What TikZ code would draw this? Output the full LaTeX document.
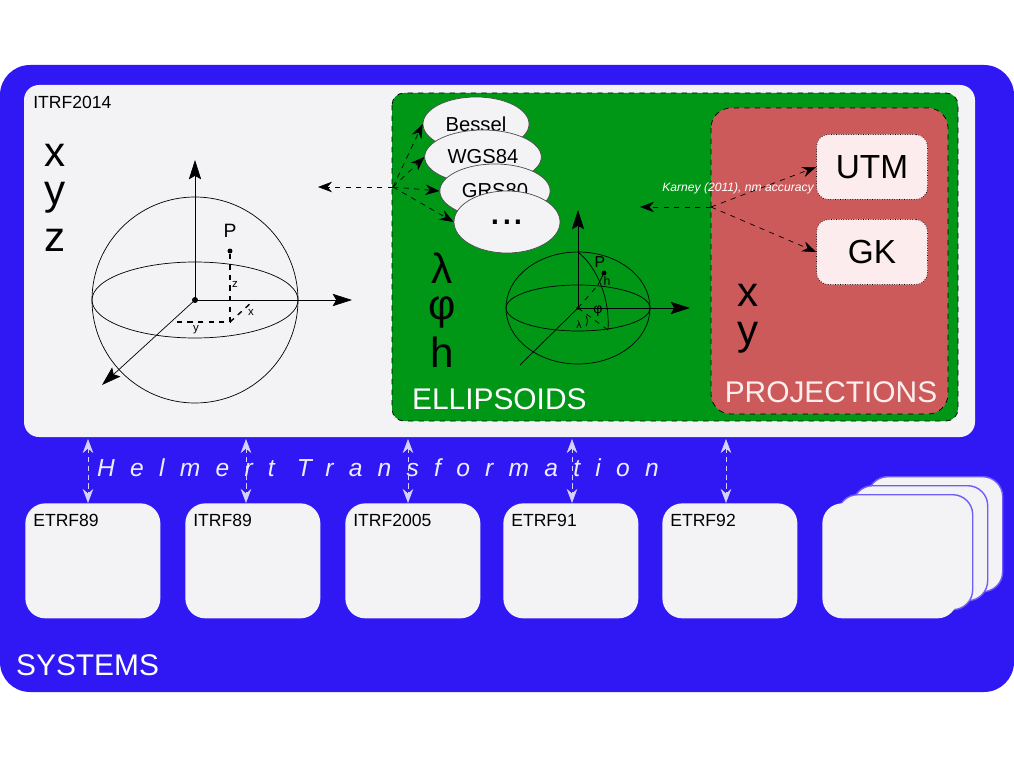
\documentclass[tikz,border=0pt]{standalone}
\usepackage{fontspec}
\setmainfont{Liberation Sans}
\usetikzlibrary{positioning, shapes, arrows.meta}
\definecolor{sysblue}{RGB}{48,24,245}
\definecolor{panel}{RGB}{243,242,245}
\definecolor{ellgreen}{RGB}{0,150,22}
\definecolor{projred}{RGB}{205,90,90}
\definecolor{projbox}{RGB}{252,236,238}
\tikzset{
  frame/.style={draw=none, rounded corners=20*0.02cm, fill=panel},
  sysbox/.style={frame, minimum width=135*0.02cm, minimum height=115*0.02cm, anchor=north west},
  syslabel/.style={font=\fontsize{10}{11}\selectfont, anchor=north west, inner sep=0pt},
  ellip/.style={ellipse, draw=black!70, thin, fill=panel, minimum width=106*0.02cm, minimum height=54*0.02cm, font=\fontsize{11.5}{12}\selectfont},
  projnode/.style={draw, densely dotted, rounded corners=12*0.02cm, fill=projbox, minimum width=111*0.02cm, minimum height=65*0.02cm, font=\fontsize{19}{20}\selectfont},
  big/.style={font=\fontsize{24}{25}\selectfont, inner sep=0pt},
  title/.style={text=white, font=\fontsize{17}{18}\selectfont},
  dasharrow/.style={dashed, -{Stealth[length=8pt]}},
  axis/.style={-{Stealth[length=11pt, width=7pt, inset=2pt]}},
  helmert/.style={densely dashed, draw=white!80!sysblue, {Stealth[length=8pt]}-{Stealth[length=8pt]}},
  dot/.style={circle, fill=black, inner sep=1.2pt}
}
\begin{document}
\begin{tikzpicture}[x=0.02cm, y=-0.02cm]
    \useasboundingbox (0,0) rectangle (1014,760);

    % systems background
    \fill[sysblue, rounded corners=30*0.02cm] (0,65) rectangle (1014,692);
    \node[title, anchor=west] (systems) at (10,665) {SYSTEMS};

    % ITRF2014 panel
    \fill[panel, rounded corners=15*0.02cm] (24,85) rectangle (975,437);
    \node[syslabel] (itrf) at (33,96) {ITRF2014};
    \node[big] (cx) at (55,155) {x};
    \node[big] (cy) at (55,198) {y};
    \node[big] (cz) at (55,240) {z};

    % sphere
    \coordinate (o) at (195,300);
    \draw (o) circle [radius=103];
    \draw (o) ellipse [x radius=103, y radius=38];
    \coordinate (zt) at (195,160);
    \coordinate (xt) at (352,300);
    \coordinate (yt) at (102,385);
    \draw[axis] (o) -- (zt);
    \draw[axis] (o) -- (xt);
    \draw[axis] (o) -- (yt);
    \node[dot] at (o) {};
    \node[dot, inner sep=1pt] (p) at (230,251) {};
    \node[font=\fontsize{11}{12}\selectfont] at (230,231) {P};
    \coordinate (foot) at (230,322);
    \coordinate (yfoot) at (172,322);
    \coordinate (xfoot) at (252,302);
    \draw[dashed, thick] (p) -- (foot) -- (yfoot);
    \draw[dashed, thick] (foot) -- (xfoot);
    \node[font=\fontsize{6.5}{7}\selectfont] at (235,284) {z};
    \node[font=\fontsize{6.5}{7}\selectfont] at (251,312) {x};
    \node[font=\fontsize{6.5}{7}\selectfont] at (196,330) {y};

    % ellipsoids box
    \draw[dashed, fill=ellgreen, rounded corners=12*0.02cm] (392,93) rectangle (958,421);
    \node[ellip] (bessel) at (476,124) {Bessel};
    \node[ellip] (wgs) at (483,157) {WGS84};
    \node[ellip] (grs) at (495,191) {GRS80};
    \node[ellip, minimum height=62*0.02cm, font=\fontsize{24}{24}\selectfont] (more) at (507,222) {...};
    \coordinate (ellsrc) at (393,187);
    \coordinate (toxyz) at (318,187);
    \draw[dasharrow] (ellsrc) -- (toxyz);
    \draw[dasharrow] (ellsrc) -- (bessel.west);
    \draw[dasharrow] (ellsrc) -- (wgs.west);
    \draw[dasharrow] (ellsrc) -- (grs.west);
    \draw[dasharrow] (ellsrc) -- (more.west);
    \node[big] (cl) at (442,268) {λ};
    \node[big] (cp) at (442,312) {φ};
    \node[big] (ch) at (442,352) {h};

    % ellipsoid
    \coordinate (e) at (578,308);
    \draw (e) ellipse [x radius=72, y radius=56];
    \draw (e) ellipse [x radius=72, y radius=23];
    \draw[axis] (e) -- (578,210);
    \draw[axis] (e) -- (690,308);
    \draw (e) -- (520,365);
    \draw (578,252) .. controls (598,268) and (610,300) .. (608,330);
    \draw[dashed] (e) -- (608,330);
    \draw[dashed] (e) -- (598,285);
    \draw (598,285) -- (604,273);
    \node[dot, inner sep=1pt] (pe) at (604,273) {};
    \draw (586,316) arc [start angle=-30, end angle=30, radius=10];
    \node[dot, inner sep=0.8pt] at (e) {};
    \node[font=\fontsize{9}{10}\selectfont] at (600,262) {P};
    \node[font=\fontsize{7}{8}\selectfont] at (607,281) {h};
    \node[font=\fontsize{8}{9}\selectfont] at (598,311) {φ};
    \node[font=\fontsize{6}{7}\selectfont] at (579,325) {λ};
    \node[title, anchor=west] (ells) at (406,399) {ELLIPSOIDS};

    % projections box
    \draw[dashed, fill=projred, rounded corners=20*0.02cm] (711,108) rectangle (948,414);
    \node[projnode] (utm) at (872,167) {UTM};
    \node[projnode] (gk) at (872,252) {GK};
    \coordinate (projsrc) at (711,207);
    \draw[dasharrow] (projsrc) -- (640,207);
    \draw[dasharrow] (projsrc) -- (utm.west);
    \draw[dasharrow] (projsrc) -- (gk.west);
    \node[text=white, font=\fontsize{6.9}{7}\selectfont\itshape] (karney) at (738,188) {Karney (2011), nm accuracy};
    \node[big] (px) at (748,295) {x};
    \node[big] (py) at (748,338) {y};
    \node[title, text=white!90!projred] (projs) at (831,392) {PROJECTIONS};

    % other systems
    \foreach \name/\x in {ETRF89/25, ITRF89/185, ITRF2005/345, ETRF91/503, ETRF92/662}{
      \node[sysbox] (\name) at (\x,503) {};
      \node[syslabel] at (\x+8,514) {\name};
    }
    \foreach \i in {3,2,1}{
      \node[sysbox, draw=sysblue!70, thick] (stack\i) at (822+15*\i,503-9*\i) {};
    }
    \node[sysbox] (stack0) at (822,503) {};

    % helmert transformation
    \node[text=white!92!sysblue, font=\fontsize{14}{15}\selectfont\itshape\addfontfeature{LetterSpace=62}] (helmert) at (378,468) {Helmert Transformation};
    \foreach \name/\x in {ETRF89/88, ITRF89/246, ITRF2005/408, ETRF91/572, ETRF92/726}{
      \draw[helmert] (\x,439) -- (\name.north -| \x,0);
    }
\end{tikzpicture}
\end{document}
